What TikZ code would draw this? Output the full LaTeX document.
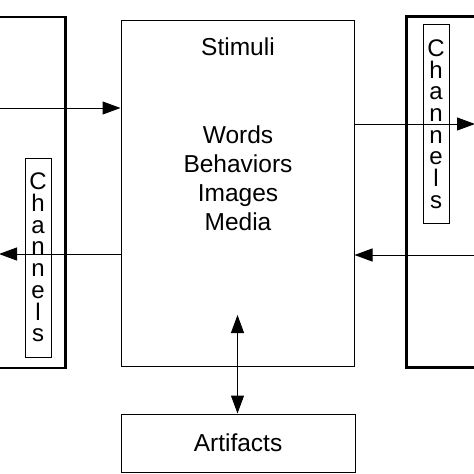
\documentclass[tikz,border=0pt]{standalone}
\usepackage{fontspec}
\setmainfont{Liberation Sans}
\usetikzlibrary{arrows.meta}
\tikzset{
	side/.style={draw, line width=2.6pt, minimum width=77pt, minimum height=351pt, inner sep=0pt},
	panel/.style={draw, line width=1pt, inner sep=0pt},
	chan/.style={draw, line width=1pt, minimum width=26pt, minimum height=199pt, inner sep=0pt,
		align=center, font=\fontsize{24}{21.7}\selectfont},
	flow/.style={line width=1pt, -{Triangle[length=18pt,width=13pt]}},
	label/.style={font=\fontsize{24.5}{29}\selectfont, align=center}
}
\newcommand{\vstack}{C\\h\\a\\n\\n\\e\\l\\s}
\begin{document}
\begin{tikzpicture}[x=1pt,y=-1pt]
	\useasboundingbox (0,0) rectangle (474,474);
	% outer parties
	\node[side] (lside) at (27,192.5) {};
	\node[side] (rside) at (445,192) {};
	\node[chan] (lchan) at (38,257.5) {\vstack};
	\node[chan] (rchan) at (436,124) {\vstack};
	% stimuli and artifacts
	\node[panel, minimum width=233pt, minimum height=346pt] (stim) at (237.5,193) {};
	\node[label] (stimtitle) at (238,47) {Stimuli};
	\node[label] (stimlist) at (238,178) {Words\\Behaviors\\Images\\Media};
	\node[panel, minimum width=234pt, minimum height=58pt, label] (art) at (238,443) {Artifacts};
	% message flows
	\coordinate (lin) at (-1,108);
	\coordinate (lout) at (-1,254);
	\coordinate (rout) at (475,124);
	\coordinate (rin) at (475,255);
	\draw[flow] (lin) -- (lin -| stim.west);
	\draw[flow] (lout -| stim.west) -- (lout);
	\draw[flow] (rout -| stim.east) -- (rout);
	\draw[flow] (rin) -- (rin -| stim.east);
	\coordinate (up) at (237.5,315);
	\draw[flow, {Triangle[length=18pt,width=13pt]}-{Triangle[length=18pt,width=13pt]}] (up) -- (up |- art.north);
\end{tikzpicture}
\end{document}
